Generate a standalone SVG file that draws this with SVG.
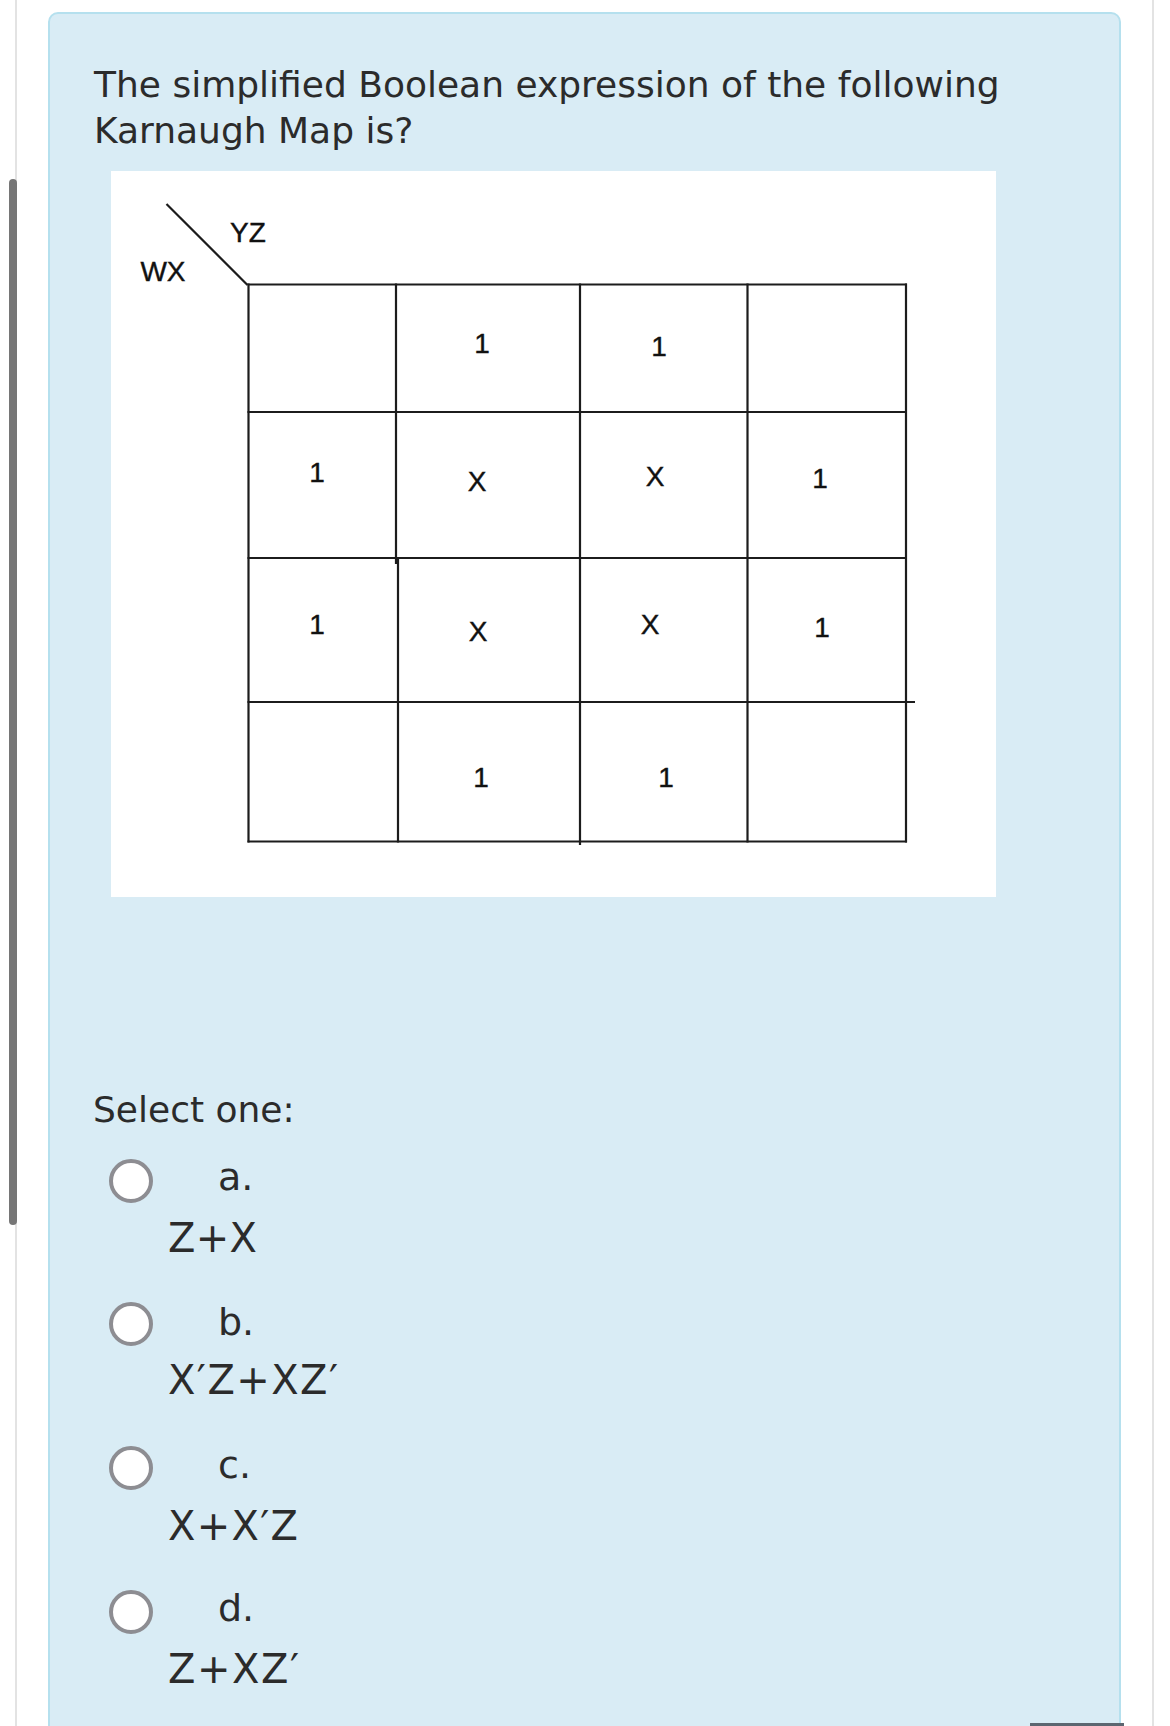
<svg xmlns="http://www.w3.org/2000/svg" width="1170" height="1726" viewBox="0 0 1170 1726">
  <style>
    .q { font-family: "DejaVu Sans", Verdana, sans-serif; font-size: 36px; fill: #2b2b2b; }
    .lbl { font-family: "DejaVu Sans", Verdana, sans-serif; font-size: 38px; fill: #2b2b2b; }
    .ex { font-family: "DejaVu Sans", Verdana, sans-serif; font-size: 40px; fill: #2b2b2b; }
    .k { font-family: "Liberation Sans", Arial, sans-serif; font-size: 28px; fill: #111; stroke: #111; stroke-width: 0.4; text-anchor: middle; }
    .g { stroke: #1c1c1c; stroke-width: 2.2; fill: none; }
    .radio { fill: #ffffff; stroke: #8d8d92; stroke-width: 4; }
  </style>
  <rect x="0" y="0" width="1170" height="1726" fill="#ffffff"/>
  <g id="chrome">
    <rect x="15" y="0" width="2" height="1726" fill="#e3e3e3"/>
    <rect x="1152" y="0" width="2" height="1726" fill="#e3e3e3"/>
    <rect x="9" y="179" width="8" height="1046" rx="4" fill="#767676"/>
  </g>
  <g id="panel">
    <rect x="49" y="13" width="1071" height="1740" rx="9" fill="#d9ecf5" stroke="#b5e0ee" stroke-width="2"/>
  </g>
  <rect x="1030" y="1723" width="94" height="3" fill="#5c6670"/>
  <g id="question">
    <text class="q" x="94" y="97">The simplified Boolean expression of the following</text>
    <text class="q" x="94" y="143">Karnaugh Map is?</text>
  </g>
  <g id="kmap">
    <rect x="111" y="171" width="885" height="726" fill="#ffffff"/>
    <g id="grid">
      <line class="g" x1="166.5" y1="204" x2="247.5" y2="285" stroke-width="1.8"/>
      <line class="g" x1="247.5" y1="284.5" x2="907" y2="284.5"/>
      <line class="g" x1="247.5" y1="412" x2="907" y2="412"/>
      <line class="g" x1="247.5" y1="558" x2="907" y2="558"/>
      <line class="g" x1="247.5" y1="702" x2="915" y2="702"/>
      <line class="g" x1="247.5" y1="841.5" x2="907" y2="841.5"/>
      <line class="g" x1="248.5" y1="283.5" x2="248.5" y2="842.5"/>
      <line class="g" x1="396" y1="283.5" x2="396" y2="564"/>
      <line class="g" x1="398" y1="558" x2="398" y2="842.5"/>
      <line class="g" x1="580" y1="283.5" x2="580" y2="845"/>
      <line class="g" x1="747.5" y1="283.5" x2="747.5" y2="842.5"/>
      <line class="g" x1="906" y1="283.5" x2="906" y2="842.5"/>
    </g>
    <text class="k" x="248" y="242">YZ</text>
    <text class="k" x="163" y="281">WX</text>
    <g id="r1">
      <text class="k" x="482" y="353">1</text>
      <text class="k" x="659" y="356">1</text>
    </g>
    <g id="r2">
      <text class="k" x="317" y="482">1</text>
      <text class="k" x="477" y="491">X</text>
      <text class="k" x="655" y="486">X</text>
      <text class="k" x="820" y="488">1</text>
    </g>
    <g id="r3">
      <text class="k" x="317" y="634">1</text>
      <text class="k" x="478" y="641">X</text>
      <text class="k" x="650" y="634">X</text>
      <text class="k" x="822" y="637">1</text>
    </g>
    <g id="r4">
      <text class="k" x="481" y="787">1</text>
      <text class="k" x="666" y="787">1</text>
    </g>
  </g>
  <g id="select">
    <text class="q" x="93" y="1122">Select one:</text>
  </g>
  <g id="opt-a">
    <circle class="radio" cx="131" cy="1181" r="20"/>
    <text class="lbl" x="218" y="1190">a.</text>
    <text class="ex" x="168" y="1252" textLength="89" lengthAdjust="spacing">Z+X</text>
  </g>
  <g id="opt-b">
    <circle class="radio" cx="131" cy="1324" r="20"/>
    <text class="lbl" x="218" y="1335">b.</text>
    <text class="ex" x="168" y="1394" textLength="170" lengthAdjust="spacing">X′Z+XZ′</text>
  </g>
  <g id="opt-c">
    <circle class="radio" cx="131" cy="1468" r="20"/>
    <text class="lbl" x="218" y="1478">c.</text>
    <text class="ex" x="168" y="1540" textLength="130" lengthAdjust="spacing">X+X′Z</text>
  </g>
  <g id="opt-d">
    <circle class="radio" cx="131" cy="1612" r="20"/>
    <text class="lbl" x="218" y="1621">d.</text>
    <text class="ex" x="168" y="1683" textLength="131" lengthAdjust="spacing">Z+XZ′</text>
  </g>
</svg>
